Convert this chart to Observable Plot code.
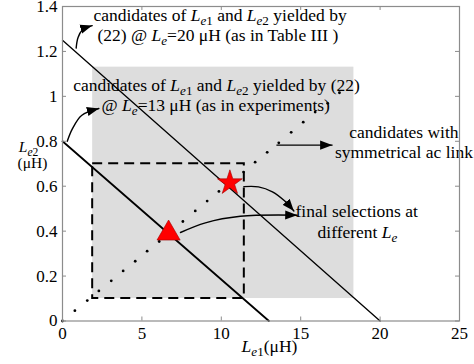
<!DOCTYPE html>
<html><head><meta charset="utf-8">
<script src="https://cdn.jsdelivr.net/npm/d3@7"></script>
<script src="https://cdn.jsdelivr.net/npm/@observablehq/plot@0.6"></script>
<style>body{margin:0;background:#fff;} svg{display:block;}</style>
</head><body><div id="chart"></div>
<script>
// ---- data ----
const xTicks = [0, 5, 10, 15, 20, 25];
const yTicks = [0, 0.2, 0.4, 0.6, 0.8, 1, 1.2, 1.4];

// candidates with symmetrical ac link (dotted series)
const symX = [0, 0.78, 1.56, 2.29, 3.07, 3.82, 4.58, 5.33, 6.09, 6.84, 7.58, 8.36, 9.11, 9.85, 10.64, 11.4, 12.13, 12.89, 13.62, 14.4, 15.16, 15.91, 16.7, 17.44];
const symY = [0, 0.046, 0.091, 0.134, 0.179, 0.223, 0.266, 0.311, 0.354, 0.398, 0.443, 0.49, 0.534, 0.577, 0.619, 0.663, 0.707, 0.751, 0.793, 0.84, 0.885, 0.93, 0.969, 1.016];

// candidate lines from (22)
const le13X = [0, 13], le13Y = [0.8, 0];
const le20X = [0, 20], le20Y = [1.25, 0];

// shaded region and dashed box
const regionX = [1.9, 18.35], regionY = [0.1, 1.13];
const boxX = [1.9, 11.45], boxY = [0.1, 0.7];

// final selections
const triangleXY = [6.68, 0.39];
const starXY = [10.54, 0.615];

// annotation arrows (points along each arrow path, last one is the tip)
const arrowA = [[0.86, 1.215], [0.98, 1.262], [1.25, 1.295], [1.87, 1.315]];
const arrowB = [[0.30, 0.80], [0.62, 0.855], [1.2, 0.915], [2.29, 0.946]];
const arrowC = [[13.5, 0.783], [16.98, 0.783]];
const arrowD = [[11.42, 0.598], [12.34, 0.597], [13.22, 0.575], [13.98, 0.535], [14.57, 0.49]];
const arrowE = [[7.43, 0.394], [9.0, 0.437], [11.2, 0.466], [14.78, 0.471]];

// annotation texts
const notesStart = [
  {x: 1.95, y: 1.36, text: "candidates of L_e1 and L_e2 yielded by"},
  {x: 2.20, y: 1.27, text: "(22) @ L_e=20 μH (as in Table III )"},
  {x: 0.67, y: 1.047, text: "candidates of L_e1 and L_e2 yielded by (22)"},
  {x: 2.46, y: 0.958, text: "@ L_e=13 μH (as in experiments)"},
  {x: 14.67, y: 0.49, text: "final selections at"},
  {x: 16.06, y: 0.393, text: "different L_e"}
];
const notesMiddle = [
  {x: 21.5, y: 0.838, text: "candidates with"},
  {x: 21.5, y: 0.75, text: "symmetrical ac link"}
];

// ---- build ----
const W = 474, H = 364, mL = 62, mR = 15, mT = 6, mB = 43.5;
const fw = W - mL - mR, fh = H - mT - mB;
const FONT = "Liberation Serif";

const pts = (xs, ys) => xs.map((x, i) => ({x, y: ys[i]}));
const arrowRows = [arrowA, arrowB, arrowC, arrowD, arrowE]
  .flatMap((a, k) => a.map(([x, y]) => ({x, y, k})));

function filledArrow(color) {
  const NS = "http://www.w3.org/2000/svg";
  const m = document.createElementNS(NS, "marker");
  m.setAttribute("viewBox", "-12 -5 12 10");
  m.setAttribute("markerWidth", 12);
  m.setAttribute("markerHeight", 10);
  m.setAttribute("markerUnits", "userSpaceOnUse");
  m.setAttribute("refX", 0);
  m.setAttribute("refY", 0);
  m.setAttribute("orient", "auto");
  const p = document.createElementNS(NS, "path");
  p.setAttribute("d", "M-12,-4.6L0,0L-12,4.6Z");
  p.setAttribute("fill", color === "currentColor" ? "black" : color);
  p.setAttribute("stroke", "none");
  m.appendChild(p);
  return m;
}

function build(marker) {
  return Plot.plot({
    width: W, height: H,
    marginLeft: mL, marginRight: mR, marginTop: mT, marginBottom: mB,
    x: {domain: [0, 25]},
    y: {domain: [0, 1.4]},
    style: {fontFamily: FONT, fontSize: "17px", background: "white", color: "black"},
    marks: [
      Plot.rect([0], {x1: () => regionX[0], x2: () => regionX[1], y1: () => regionY[0], y2: () => regionY[1], fill: "#dddddd"}),
      Plot.line(pts(le20X, le20Y), {x: "x", y: "y", stroke: "black", strokeWidth: 1.3}),
      Plot.line(pts(le13X, le13Y), {x: "x", y: "y", stroke: "black", strokeWidth: 1.8}),
      Plot.rect([0], {x1: () => boxX[0], x2: () => boxX[1], y1: () => boxY[0], y2: () => boxY[1], fill: "none", stroke: "black", strokeWidth: 2, strokeDasharray: "10,6"}),
      Plot.dot(pts(symX, symY), {x: "x", y: "y", r: 1.4, fill: "black", stroke: "none"}),
      Plot.dot([triangleXY], {x: d => d[0], y: d => d[1], symbol: "triangle", r: 8.6, fill: "#ff0000", stroke: "#a00000", strokeWidth: 0.6}),
      Plot.dot([starXY], {x: d => d[0], y: d => d[1], symbol: "star", r: 7.8, fill: "#ff0000", stroke: "#a00000", strokeWidth: 0.6}),
      Plot.line(arrowRows, {x: "x", y: "y", z: "k", curve: "catmull-rom", stroke: "black", strokeWidth: 1.4, markerEnd: marker}),
      Plot.text(notesStart, {x: "x", y: "y", text: "text", textAnchor: "start", fill: "black", fontFamily: FONT, fontSize: 17.5}),
      Plot.text(notesMiddle, {x: "x", y: "y", text: "text", textAnchor: "middle", fill: "black", fontFamily: FONT, fontSize: 17.5}),
      Plot.frame({stroke: "#8c8c8c", strokeWidth: 1.2}),
      Plot.tickX(xTicks, {x: d => d, insetTop: fh - 4, stroke: "#8c8c8c"}),
      Plot.tickX(xTicks, {x: d => d, insetBottom: fh - 4, stroke: "#8c8c8c"}),
      Plot.tickY(yTicks, {y: d => d, insetRight: fw - 4, stroke: "#8c8c8c"}),
      Plot.tickY(yTicks, {y: d => d, insetLeft: fw - 4, stroke: "#8c8c8c"}),
      Plot.axisX({ticks: xTicks, tickSize: 0, tickPadding: 6, label: null, tickFormat: d => String(d), fontSize: 17, fontFamily: FONT}),
      Plot.axisY({ticks: yTicks, tickSize: 0, tickPadding: 5, label: null, tickFormat: d => String(d), fontSize: 17, fontFamily: FONT}),
      Plot.text(["L_e1(μH)"], {frameAnchor: "bottom", text: d => d, dx: 8.5, dy: 30.5, fontSize: 17.5, fontFamily: FONT}),
      Plot.text(["L_e2"], {frameAnchor: "left", text: d => d, dx: -43.7, dy: -16.5, fontSize: 15.5, fontFamily: FONT}),
      Plot.text(["(μH)"], {frameAnchor: "left", text: d => d, dx: -45, dy: -1, fontSize: 15.5, fontFamily: FONT})
    ]
  });
}

let chart;
try { chart = build(filledArrow); } catch (e) { chart = build("arrow"); }

// italic L with subscripts (e italic, digit upright)
function richify(root) {
  const NS = "http://www.w3.org/2000/svg";
  const walker = document.createTreeWalker(root, NodeFilter.SHOW_TEXT);
  const nodes = [];
  while (walker.nextNode()) if (/L_e/.test(walker.currentNode.nodeValue)) nodes.push(walker.currentNode);
  for (const node of nodes) {
    const s = node.nodeValue;
    const segs = [];
    const re = /L_e(\d?)/g;
    let last = 0, m;
    while ((m = re.exec(s))) {
      if (m.index > last) segs.push({t: s.slice(last, m.index)});
      segs.push({t: "L", it: true});
      segs.push({t: "e", it: true, sub: true});
      if (m[1]) segs.push({t: m[1], sub: true});
      last = re.lastIndex;
    }
    if (last < s.length) segs.push({t: s.slice(last)});
    const frag = document.createDocumentFragment();
    let shifted = false;
    const shift = 4;
    for (const g of segs) {
      const ts = document.createElementNS(NS, "tspan");
      ts.textContent = g.t;
      if (g.it) ts.setAttribute("font-style", "italic");
      if (g.sub) { ts.setAttribute("font-size", "0.75em"); if (!shifted) { ts.setAttribute("dy", shift); shifted = true; } }
      else if (shifted) { ts.setAttribute("dy", -shift); shifted = false; }
      frag.appendChild(ts);
    }
    node.parentNode.replaceChild(frag, node);
  }
}
richify(chart);
document.getElementById("chart").appendChild(chart);
</script>
</body></html>
